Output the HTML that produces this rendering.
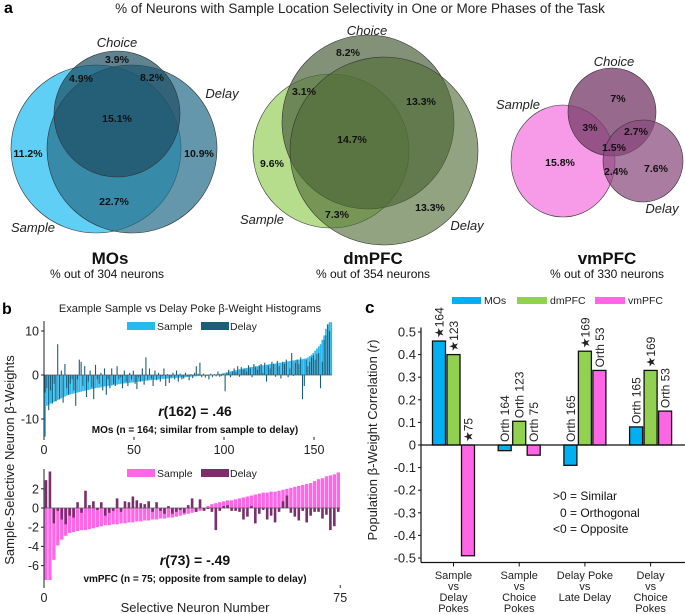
<!DOCTYPE html>
<html><head><meta charset="utf-8">
<style>
body{margin:0;background:#fff;}
svg{display:block;font-family:"Liberation Sans",sans-serif;}
</style></head>
<body>
<svg id="fig" width="685" height="614" viewBox="0 0 685 614" xmlns="http://www.w3.org/2000/svg">
<g>
<text x="4" y="13" font-size="16" font-weight="bold">a</text>
<text x="360" y="13" font-size="13.5" text-anchor="middle" fill="#222">% of Neurons with Sample Location Selectivity in One or More Phases of the Task</text>
<g stroke="#333" stroke-width="0.6">
<ellipse cx="96" cy="149" rx="85" ry="84" fill="#5fcff5"/>
<ellipse cx="132" cy="149" rx="85" ry="84" fill="#2a6f8c" fill-opacity="0.72"/>
<ellipse cx="117" cy="114" rx="63" ry="63" fill="#1d4d62" fill-opacity="0.7"/>
</g>
<g stroke="#333" stroke-width="0.6">
<ellipse cx="331" cy="151" rx="78" ry="77" fill="#b6dd8c"/>
<ellipse cx="368" cy="122" rx="86" ry="87" fill="#4f6340" fill-opacity="0.7"/>
<ellipse cx="384" cy="151" rx="94" ry="94" fill="#4f6a34" fill-opacity="0.62"/>
</g>
<g stroke="#333" stroke-width="0.6">
<ellipse cx="563" cy="161" rx="52" ry="56" fill="#f79ae8"/>
<ellipse cx="612" cy="112" rx="44" ry="44" fill="#7a3f6c" fill-opacity="0.78"/>
<ellipse cx="643" cy="161" rx="40" ry="41" fill="#8a4a7e" fill-opacity="0.72"/>
</g>
<g font-size="10.5" font-weight="bold" text-anchor="middle" fill="#111">
<text x="117" y="63">3.9%</text><text x="81" y="82">4.9%</text><text x="152" y="81">8.2%</text>
<text x="117" y="122">15.1%</text><text x="28" y="157">11.2%</text><text x="199" y="157">10.9%</text><text x="114" y="205">22.7%</text>
<text x="348" y="56">8.2%</text><text x="304" y="95">3.1%</text><text x="421" y="105">13.3%</text><text x="352" y="143">14.7%</text>
<text x="272" y="167">9.6%</text><text x="430" y="211">13.3%</text><text x="337" y="218">7.3%</text>
<text x="618" y="102">7%</text><text x="590" y="131">3%</text><text x="636" y="135">2.7%</text><text x="614" y="151">1.5%</text>
<text x="560" y="166">15.8%</text><text x="616" y="175">2.4%</text><text x="656" y="172">7.6%</text>
</g>
<g font-size="13" font-style="italic" text-anchor="middle" fill="#222">
<text x="117" y="47">Choice</text><text x="222" y="98">Delay</text><text x="33" y="232">Sample</text>
<text x="367" y="35">Choice</text><text x="262" y="224">Sample</text><text x="467" y="230">Delay</text>
<text x="614" y="66">Choice</text><text x="518" y="109">Sample</text><text x="662" y="213">Delay</text>
</g>
<g text-anchor="middle" fill="#111">
<text x="110" y="264" font-size="17" font-weight="bold">MOs</text>
<text x="107" y="278" font-size="12">% out of 304 neurons</text>
<text x="373" y="264" font-size="17" font-weight="bold">dmPFC</text>
<text x="373" y="278" font-size="12">% out of 354 neurons</text>
<text x="607" y="264" font-size="17" font-weight="bold">vmPFC</text>
<text x="607" y="278" font-size="12">% out of 330 neurons</text>
</g>
</g>
<g id="panelb">
<text x="2" y="314" font-size="16" font-weight="bold">b</text>
<text x="190" y="312" font-size="11" text-anchor="middle" fill="#222">Example Sample vs Delay Poke β-Weight Histograms</text>
<text transform="translate(14,460) rotate(-90)" font-size="13" text-anchor="middle" fill="#222">Sample-Selective Neuron β-Weights</text>
<text x="195" y="612" font-size="13" text-anchor="middle" fill="#222">Selective Neuron Number</text>
</g>
<g id="panelc">
<text x="365" y="313" font-size="17" font-weight="bold">c</text>
<text transform="translate(377,440) rotate(-90)" font-size="13" text-anchor="middle" fill="#222">Population β-Weight Correlation (<tspan font-style="italic">r</tspan>)</text>
<g font-size="10.5" fill="#222">
<rect x="452" y="297" width="29" height="7" fill="#00b0f0"/><text x="484" y="304">MOs</text>
<rect x="517" y="297" width="30" height="7" fill="#92d050"/><text x="550" y="304">dmPFC</text>
<rect x="595" y="297" width="30" height="7" fill="#ff66e6"/><text x="628" y="304">vmPFC</text>
</g>
<g font-size="12" fill="#111">
<text x="553" y="500">&gt;0 = Similar</text>
<text x="560" y="517">0 = Orthogonal</text>
<text x="553" y="533">&lt;0 = Opposite</text>
</g>
</g>
</svg>
<script>
const NS='http://www.w3.org/2000/svg';
const mosSample=[-14,-7,-6.8,-6.5,-6.3,-6.1,-5.9,-5.7,-5.5,-5.3,-5.1,-4.9,-4.7,-4.5,-4.4,-4.3,-4.2,-4.1,-4,-3.9,-3.8,-3.7,-3.6,-3.5,-3.4,-3.3,-3.2,-3.1,-3,-2.9,-2.9,-2.8,-2.7,-2.6,-2.6,-2.5,-2.4,-2.4,-2.3,-2.2,-2.2,-2.1,-2,-2,-1.9,-1.9,-1.8,-1.8,-1.7,-1.7,-1.6,-1.6,-1.5,-1.5,-1.4,-1.4,-1.3,-1.3,-1.2,-1.2,-1.1,-1.1,-1,-1,-0.95,-0.9,-0.9,-0.85,-0.8,-0.8,-0.75,-0.7,-0.7,-0.65,-0.6,-0.6,-0.55,-0.5,-0.5,-0.45,-0.4,-0.4,-0.35,-0.3,-0.3,-0.25,-0.2,-0.2,-0.15,-0.1,-0.1,-0.05,0,0.05,0.1,0.15,0.2,0.25,0.3,0.4,0.5,0.6,0.7,0.8,0.9,1,1.1,1.2,1.3,1.4,1.5,1.5,1.6,1.7,1.8,1.8,1.9,2,2,2.1,2.2,2.2,2.3,2.3,2.4,2.5,2.5,2.6,2.6,2.7,2.8,2.8,2.9,3,3,3.1,3.2,3.3,3.3,3.4,3.5,3.5,3.5,3.6,3.7,3.8,4,4.3,4.6,5,5.5,6,6.5,7,8,9,10.5,11.5,12,12];
const mosDelay=[-4,-3,-8,-3.5,-6.5,-2,-6,7,-5.5,1,-6.3,2.5,-3,-4.5,-2,-1,-3.5,-7,-1,3.5,3,-2.5,2,-5,-1.5,1,-2.8,-5.5,2.3,-1,-2,0.5,-3.5,1.5,-4.5,-1,-3,1.5,-2,-2.5,2,-1,-0.5,-3,1,-1.5,-2.5,0.5,-1,1,-2,-3.2,-0.5,-1.5,1.5,-2.2,4,-1,1.5,-0.8,-2.5,1,-1.2,0.5,-1.5,-0.3,1.5,-2.5,0.2,-1.8,-0.5,0.5,-1,1,-1.5,0.3,-1,-0.8,0.5,-0.3,-1.2,0.2,-0.7,0.5,2,0.3,2.8,-0.5,0.3,-0.6,-0.2,-1,0.3,-0.5,0.2,-0.3,0.8,-0.4,-0.2,0.3,-3.7,0.5,1.2,-0.5,0.8,1.5,0.6,2,-0.4,1.8,1.2,1.5,0.8,2.2,1.5,-0.5,2.5,1.8,1.2,2.2,2.5,0.5,2.8,-1.5,2.2,1.5,3,2.5,-0.4,3.2,2,-0.8,3,2.5,3.5,-0.5,1.5,5,-0.2,2.8,3.5,2.5,4,-5.5,-2.5,3.5,2,3,4,4.5,3.5,4.8,5,-3,3,8,9,11.5,10];
const vmSample=[-7.5,-7.5,-5.4,-3.9,-3.3,-2.9,-2.6,-2.5,-2.4,-2.3,-2.3,-2.2,-2.1,-2,-1.9,-1.8,-1.8,-1.7,-1.7,-1.6,-1.6,-1.5,-1.5,-1.4,-1.4,-1.3,-1.3,-1.2,-1.2,-1.1,-1.1,-1,-1,-0.9,-0.8,-0.7,-0.6,-0.5,-0.4,-0.3,-0.2,0.2,0.4,0.5,0.6,0.7,0.8,0.8,0.9,1,1.1,1.2,1.3,1.4,1.5,1.6,1.6,1.7,1.7,1.8,1.9,2,2.1,2.2,2.3,2.4,2.5,2.6,2.8,3,3.1,3.3,3.4,3.5,3.7];
const vmDelay=[2.9,3.8,-1.6,-0.3,-1.2,-1.7,-0.8,-1,0.6,-0.5,1.8,0.3,0.7,-0.2,0.6,-0.8,-0.5,-0.3,1,-0.4,0.7,0.6,1.2,0.8,0.5,0.4,0.7,-0.4,0.6,-0.3,-0.6,0.2,-0.6,-0.4,-0.2,-0.5,0.3,1,-0.4,0.9,-0.3,-0.1,-0.4,-2.3,-0.3,0.2,0.3,-0.3,-0.3,-0.4,-1.2,-0.9,0.2,-1.6,-0.6,-0.2,-1.2,-0.8,-1.5,-0.4,0.7,1.3,-0.5,-0.9,-1.3,-0.3,-1.5,-0.8,-0.4,-0.4,-1.1,-0.7,-2.3,-1.9,-0.4];
const mosYTicks=[10,0,-10];
const mosXTicks=[0,50,100,150];
const vmYTicks=[2,0,-2,-4,-6];
const vmXTicks=[0,75];
const comparisons=[["Sample","vs","Delay","Pokes"],["Sample","vs","Choice","Pokes"],["Delay Poke","vs","Late Delay"],["Delay","vs","Choice","Pokes"]];
const mosCorr=[0.46,-0.025,-0.09,0.08];
const dmCorr=[0.40,0.105,0.415,0.33];
const vmCorr=[-0.49,-0.045,0.33,0.15];
const mosNotes=["★164","Orth 164","Orth 165","Orth 165"];
const dmNotes=["★123","Orth 123","★169","★169"];
const vmNotes=["★75","Orth 75","Orth 53","Orth 53"];
const cTicks=[0.5,0.4,0.3,0.2,0.1,0,-0.1,-0.2,-0.3,-0.4,-0.5];

function el(tag,attrs,parent){const e=document.createElementNS(NS,tag);for(const k in attrs)e.setAttribute(k,attrs[k]);parent.appendChild(e);return e;}

const pb=document.getElementById('panelb');
function histo(cfg){
  const g=el('g',{},pb);
  
  
  const x=i=>cfg.x0+i*cfg.dx;
  const y=v=>cfg.y0-v*cfg.ky;
  const bw=cfg.dx*cfg.bf;
  cfg.sample.forEach((v,i)=>{
    const r=el('rect',{x:x(i)+0.3,y:Math.min(y(v),y(0)),width:bw,height:Math.abs(y(v)-y(0)),fill:cfg.c1},g);
    
    
  });
  cfg.delay.forEach((v,i)=>{
    const w=cfg.dw;
    const r=el('rect',{x:x(i)+0.3+(bw-w)/2,y:Math.min(y(v),y(0)),width:w,height:Math.abs(y(v)-y(0)),fill:cfg.c2},g);
    
    
  });
  el('line',{x1:cfg.x0,x2:cfg.x0+cfg.dx*cfg.sample.length,y1:y(0),y2:y(0),stroke:'#555','stroke-width':0.7},g);
  const ax=el('line',{x1:cfg.x0,x2:cfg.x0,y1:cfg.top,y2:cfg.bot,stroke:'#222','stroke-width':1},g);
  
  
  cfg.yt.forEach(t=>{
    el('line',{x1:cfg.x0-3,x2:cfg.x0,y1:y(t),y2:y(t),stroke:'#222'},g);
    const tx=el('text',{x:cfg.x0-5,y:y(t)+4.5,'font-size':12.5,'text-anchor':'end',fill:'#222'},g);
    tx.textContent=t;
    
    
  });
  cfg.xt.forEach(t=>{
    el('line',{x1:x(t),x2:x(t),y1:cfg.bot,y2:cfg.bot+3,stroke:'#222'},g);
    const tx=el('text',{x:x(t),y:cfg.bot+17,'font-size':12.5,'text-anchor':'middle',fill:'#222'},g);
    tx.textContent=t;
    
    
  });
  const lg=el('g',{'font-size':10.5,fill:'#222'},g);
  
  
  el('rect',{x:127,y:cfg.ly-7,width:28,height:8,fill:cfg.c1},lg);
  el('text',{x:157,y:cfg.ly+1},lg).textContent='Sample';
  el('rect',{x:201,y:cfg.ly-7,width:28,height:8,fill:cfg.c2},lg);
  el('text',{x:230,y:cfg.ly+1},lg).textContent='Delay';
  const rt=el('text',{x:195,y:cfg.ry,'font-size':14,'font-weight':'bold','text-anchor':'middle',fill:'#111'},g);
  rt.innerHTML='<tspan font-style="italic">r</tspan>'+cfg.rtext;
  
  
  const nt=el('text',{x:195,y:cfg.ry+17,'font-size':10,'font-weight':'bold','text-anchor':'middle',fill:'#111'},g);
  nt.textContent=cfg.note;
  
  
}
histo({name:'mos-histogram',sample:mosSample,delay:mosDelay,x0:44,dx:1.8,bf:0.9,dw:1.1,y0:375,ky:4.4,top:321,bot:437,yt:mosYTicks,xt:mosXTicks,c1:'#29b8ee',c2:'#1b5e7a',ly:329,ry:416,rtext:'(162) = .46',note:'MOs (n = 164; similar from sample to delay)'});
histo({name:'vmpfc-histogram',sample:vmSample,delay:vmDelay,x0:44,dx:3.95,bf:0.85,dw:2.6,y0:508,ky:9.6,top:469,bot:585,yt:vmYTicks,xt:vmXTicks,c1:'#ff66e6',c2:'#7a2e6c',ly:476,ry:565,rtext:'(73) = -.49',note:'vmPFC (n = 75; opposite from sample to delay)'});

const pc=document.getElementById('panelc');
const cy=v=>445-v*226;
const gx=i=>453.5+i*65.7;
const cAxis=el('g',{},pc);


el('line',{x1:421,x2:421,y1:cy(0.52),y2:cy(-0.52),stroke:'#111','stroke-width':1.2},cAxis);
el('line',{x1:421,x2:685,y1:cy(-0.52),y2:cy(-0.52),stroke:'#111','stroke-width':1.2},cAxis);
cTicks.forEach(t=>{
  el('line',{x1:418,x2:421,y1:cy(t),y2:cy(t),stroke:'#111'},cAxis);
  const tx=el('text',{x:416,y:cy(t)+4.5,'font-size':13,'text-anchor':'end',fill:'#222'},cAxis);
  tx.textContent=String(t);
  
  
});
comparisons.forEach((lines,i)=>{
  el('line',{x1:gx(i),x2:gx(i),y1:cy(-0.52),y2:cy(-0.52)+4,stroke:'#111'},cAxis);
  const tx=el('text',{'font-size':11,'text-anchor':'middle',fill:'#222'},cAxis);
  
  
  lines.forEach((ln,j)=>{el('tspan',{x:gx(i),y:579+j*11},tx).textContent=ln;});
});
const series=[[mosCorr,mosNotes,'#00b0f0',-1],[dmCorr,dmNotes,'#92d050',0],[vmCorr,vmNotes,'#ff66e6',1]];
series.forEach(([vals,notes,col,off])=>{
  vals.forEach((v,i)=>{
    const cx=gx(i)+off*14.5;
    const r=el('rect',{x:cx-6.5,y:Math.min(cy(v),cy(0)),width:13,height:Math.abs(cy(v)-cy(0)),fill:col,stroke:'#111','stroke-width':1.3},pc);
    
    
    const top=cy(Math.max(v,0))-3;
    const t=el('text',{transform:`translate(${cx+4.5},${top}) rotate(-90)`,'font-size':12,fill:'#222'},pc);
    t.textContent=notes[i];
    
    
  });
});
el('line',{x1:421,x2:685,y1:cy(0),y2:cy(0),stroke:'#111','stroke-width':1.3},pc);
</script>
</body></html>
